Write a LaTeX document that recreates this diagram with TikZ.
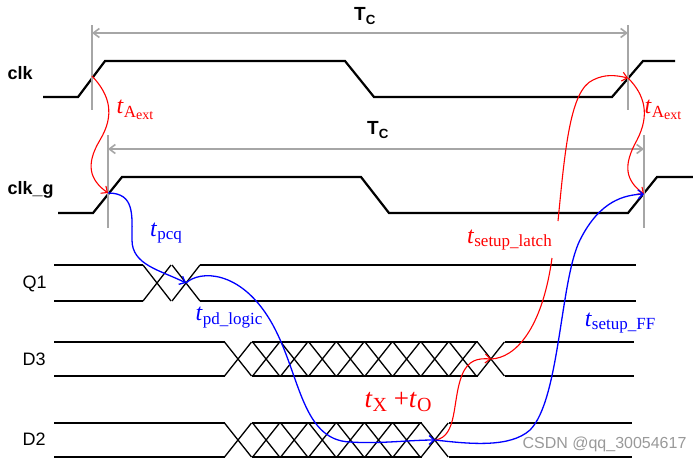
\documentclass[tikz,border=0pt]{standalone}
\usepackage{fontspec}
\setmainfont{Liberation Serif}
\newfontfamily\sans{Liberation Sans}
\usetikzlibrary{arrows.meta}
\newcommand{\tv}[1]{\textit{t}\raisebox{-0.35ex}{\fontsize{17}{17}\selectfont #1}}
\begin{document}
\begin{tikzpicture}[x=1pt,y=-1pt,
  sig/.style={line width=2.2pt,black},
  bus/.style={line width=1.3pt,black},
  grid/.style={line width=1.6pt,gray!70},
  dim/.style={grid,{Straight Barb[length=6pt,width=9pt]}-{Straight Barb[length=6pt,width=9pt]}},
  lab/.style={font=\sans\bfseries\fontsize{18}{18}\selectfont,anchor=west},
  lab2/.style={font=\sans\fontsize{18}{18}\selectfont,anchor=west},
  rd/.style={red,line width=1.1pt},
  bl/.style={blue,line width=1.3pt},
  tip/.style={-{Straight Barb[length=5pt,width=9pt]}},
  tl/.style={font=\fontsize{24}{24}\selectfont,inner sep=1pt}]
\useasboundingbox (0,0) rectangle (693,463);
% clocks
\draw[sig] (43,97) -- (78,97) -- (105,61) -- (345,61) -- (374,97) -- (612,97) -- (643,61) -- (675,61);
\draw[sig] (58,213) -- (93,213) -- (122,177) -- (361,177) -- (389,213) -- (628,213) -- (657,177) -- (693,177);
\coordinate (c1) at (92,76); \coordinate (c2) at (628,78);
\coordinate (g1) at (108,193); \coordinate (g2) at (644,194);
% dimension lines
\draw[grid] (92,25) -- (92,110); \draw[grid] (628,25) -- (628,110);
\draw[dim] (92,33) -- (628,33);
\node[font=\sans\bfseries\fontsize{19}{19}\selectfont] (tc1) at (365,16) {T\textsubscript{C}};
\draw[grid] (108,135) -- (108,228); \draw[grid] (644,135) -- (644,228);
\draw[dim] (108,149) -- (644,149);
\node[font=\sans\bfseries\fontsize{19}{19}\selectfont] (tc2) at (378,130) {T\textsubscript{C}};
% labels
\node[lab] (lclk) at (4,73) {clk};
\node[lab] (lclkg) at (4,190) {clk\_g};
\node[lab2] (lq1) at (19,284) {Q1};
\node[lab2] (ld3) at (19,359) {D3};
\node[lab2] (ld2) at (19,439) {D2};
% Q1
\def\w{14}
\draw[bus] (54,265) -- (143,265) (200,265) -- (636,265);
\draw[bus] (54,301) -- (143,301) (200,301) -- (636,301);
\foreach \c in {157,186}{\draw[bus] (\c-\w,265) -- (\c+\w,301) (\c-\w,301) -- (\c+\w,265);}
% D3
\def\v{13.5}
\draw[bus] (54,342) -- (224.5,342) (251.5,342) -- (477.5,342) (504.5,342) -- (634,342);
\draw[bus] (54,376) -- (224.5,376) (251.5,376) -- (477.5,376) (504.5,376) -- (634,376);
\foreach \i in {0,...,9}{\pgfmathsetmacro\c{238+28.1*\i}
  \draw[bus] (\c-\v,342) -- (\c+\v,376) (\c-\v,376) -- (\c+\v,342);}
% D2
\draw[bus] (54,423) -- (224.5,423) (251.5,423) -- (421.5,423) (448.5,423) -- (632,423);
\draw[bus] (54,457) -- (224.5,457) (251.5,457) -- (421.5,457) (448.5,457) -- (632,457);
\foreach \i in {0,...,7}{\pgfmathsetmacro\c{238+28.1*\i}
  \draw[bus] (\c-\v,423) -- (\c+\v,457) (\c-\v,457) -- (\c+\v,423);}
\coordinate (q1x) at (186,283);
\coordinate (d3x) at (491,359);
\coordinate (d2x) at (435,440);
\coordinate (slb) at (552,258);
\coordinate (slt) at (558,221);
% red arrows
\draw[rd,tip] (c1) .. controls (110,95) and (115,115) .. (100,140) .. controls (85,165) and (90,180) .. (g1);
\draw[rd,tip] (c2) .. controls (645,95) and (650,115) .. (637,140) .. controls (623,165) and (625,180) .. (g2);
\draw[rd,tip] (d2x) .. controls (458,437) and (452,400) .. (462,375) .. controls (468,360) and (478,358) .. (d3x);
\draw[rd] (d3x) .. controls (515,358) and (542,330) .. (slb);
\draw[rd,tip] (slt) .. controls (565,150) and (570,90) .. (593,80) .. controls (605,74) and (615,75) .. (c2);
\node[red,tl] (ta1) at (135,110) {\tv{A\raisebox{-0.3ex}{\fontsize{14}{14}\selectfont ext}}};
\node[red,tl] (ta2) at (663,110) {\tv{A\raisebox{-0.3ex}{\fontsize{14}{14}\selectfont ext}}};
\node[red,tl,anchor=west] (tsl) at (466,240) {\tv{setup\_latch}};
\node[red,font=\fontsize{27}{27}\selectfont] (txo) at (398,402) {\textit{t}\raisebox{-0.35ex}{\fontsize{20}{20}\selectfont X} +\textit{t}\raisebox{-0.35ex}{\fontsize{20}{20}\selectfont O}};
% blue arrows
\draw[bl,tip] (g1) .. controls (135,193) and (132,215) .. (132,240) .. controls (132,265) and (160,270) .. (q1x);
\draw[bl,tip] (q1x) .. controls (200,270) and (240,270) .. (270,320) .. controls (300,370) and (300,440) .. (350,442) .. controls (380,444) and (410,440) .. (d2x);
\draw[bl,tip] (d2x) .. controls (470,444) and (510,448) .. (530,430) .. controls (560,400) and (560,280) .. (580,240) .. controls (600,200) and (625,195) .. (g2);
\node[blue,tl] (tpcq) at (166,233) {\tv{pcq}};
\node[blue,tl] (tpd) at (229,318) {\tv{pd\_logic}};
\node[blue,tl] (tsf) at (620,323) {\tv{setup\_FF}};
\node[gray!80,font=\sans\fontsize{16}{16}\selectfont,anchor=east] (wm) at (690,444) {CSDN @qq\_30054617};
\end{tikzpicture}
\end{document}
